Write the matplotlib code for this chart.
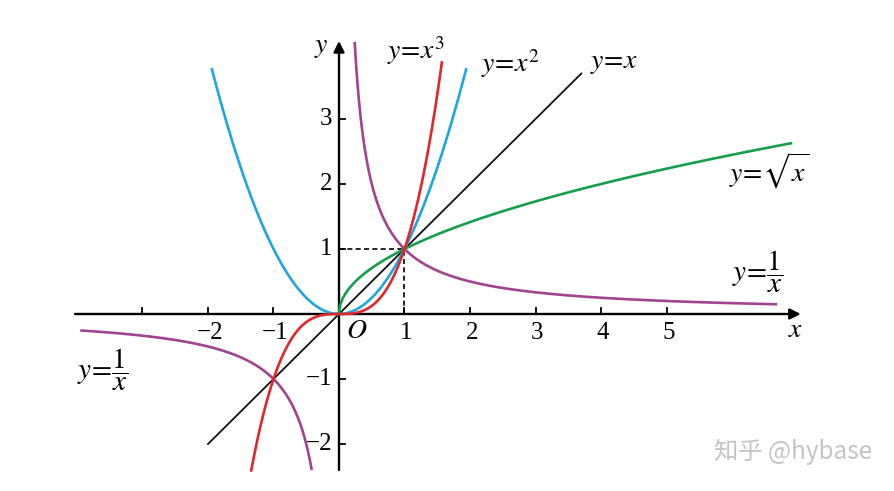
import numpy as np
import matplotlib
matplotlib.use("Agg")
import matplotlib.pyplot as plt

plt.rcParams['mathtext.fontset'] = 'stix'
plt.rcParams['font.family'] = ['Liberation Serif', 'DejaVu Serif']

# ---- data ----
line_domain = [-2.0, 3.7]          # y = x
square_domain = [-1.94, 1.94]      # y = x^2
cube_domain = [-1.34, 1.57]        # y = x^3
sqrt_domain = [0.0, 6.9]           # y = sqrt(x)
recip_pos_domain = [0.24, 6.67]    # y = 1/x, x>0
recip_neg_domain = [-3.93, -0.42]  # y = 1/x, x<0

x_ticks = [-3, -2, -1, 1, 2, 3, 4, 5]
x_tick_labels = ['', '−2', '−1', '1', '2', '3', '4', '5']
y_ticks = [-2, -1, 1, 2, 3]
y_tick_labels = ['−2', '−1', '1', '2', '3']

x_axis_range = [-4.03, 7.05]
y_axis_range = [-2.4, 4.2]

c_line = '#111111'
c_square = '#1fa6dc'
c_cube = '#e1262c'
c_sqrt = '#14a04a'
c_recip = '#a0448f'

fig = plt.figure(figsize=(8.94, 4.91), dpi=100)
ax = fig.add_axes([0, 0, 1, 1])
ax.set_xlim(-339 / 65.5, (894 - 339) / 65.5)
ax.set_ylim((314 - 491) / 65.0, 314 / 65.0)
ax.axis('off')

# axes with arrows
ax.annotate('', xy=(x_axis_range[1], 0), xytext=(x_axis_range[0], 0),
            arrowprops=dict(arrowstyle='-|>', lw=1.7, color='black', mutation_scale=16,
                            shrinkA=0, shrinkB=0))
ax.annotate('', xy=(0, y_axis_range[1]), xytext=(0, y_axis_range[0]),
            arrowprops=dict(arrowstyle='-|>', lw=1.7, color='black', mutation_scale=16,
                            shrinkA=0, shrinkB=0))

# ticks
for t, lab in zip(x_ticks, x_tick_labels):
    ax.plot([t, t], [0, 0.09], color='black', lw=1.3)
    if lab:
        ax.text(t + 0.03, -0.13, lab, ha='center', va='top', fontsize=18)
for t, lab in zip(y_ticks, y_tick_labels):
    ax.plot([0, 0.09], [t, t], color='black', lw=1.3)
    ax.text(-0.1, t, lab, ha='right', va='center', fontsize=18)

# dashed guide
ax.plot([0, 1], [1, 1], color='black', lw=1.2, ls=(0, (3, 2)))
ax.plot([1, 1], [0, 1], color='black', lw=1.2, ls=(0, (3, 2)))

lw = 1.9
x = np.linspace(*line_domain, 200)
ax.plot(x, x, color=c_line, lw=1.3, zorder=3)
x = np.linspace(*square_domain, 400)
ax.plot(x, x ** 2, color=c_square, lw=lw, zorder=3)
x = np.linspace(*cube_domain, 400)
ax.plot(x, x ** 3, color=c_cube, lw=lw, zorder=4)
x = np.linspace(*sqrt_domain, 600)
ax.plot(x, np.sqrt(x), color=c_sqrt, lw=lw, zorder=3)
x = np.linspace(*recip_pos_domain, 600)
ax.plot(x, 1 / x, color=c_recip, lw=lw, zorder=3)
x = np.linspace(*recip_neg_domain, 600)
ax.plot(x, 1 / x, color=c_recip, lw=lw, zorder=3)

# labels
fs = 20
ax.text(0.73, 4.06, r'$y\!=\!x^3$', fontsize=fs, ha='left', va='center')
ax.text(2.17, 3.86, r'$y\!=\!x^2$', fontsize=fs, ha='left', va='center')
ax.text(3.83, 3.86, r'$y\!=\!x$', fontsize=fs, ha='left', va='center')
ax.text(5.95, 2.2, r'$y\!=\!\sqrt{x}$', fontsize=fs, ha='left', va='center')
ax.text(6.0, 0.65, r'$y\!=\!\dfrac{1}{x}$', fontsize=21, ha='left', va='center')
ax.text(-4.0, -0.86, r'$y\!=\!\dfrac{1}{x}$', fontsize=21, ha='left', va='center')
ax.text(0.1, -0.27, r'$O$', fontsize=fs, ha='left', va='center')
ax.text(6.85, -0.25, r'$x$', fontsize=fs, ha='left', va='center')
ax.text(-0.38, 4.1, r'$y$', fontsize=fs, ha='left', va='center')

# watermark
ax.text(5.73, -2.12, '知乎 @hybase', fontsize=17.5, color='#c4c4c4',
        family=['Noto Sans CJK SC', 'DejaVu Sans'], ha='left', va='center')

fig.savefig('out.png', dpi=100)
